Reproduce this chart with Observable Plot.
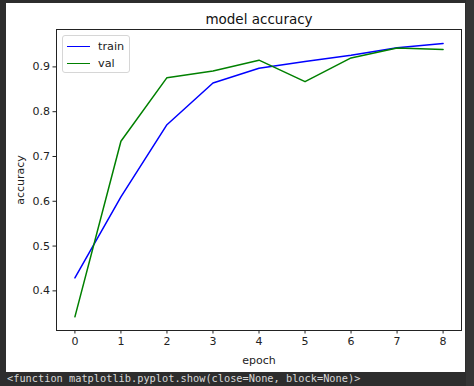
<!DOCTYPE html>
<html>
<head>
<meta charset="utf-8">
<script src="https://cdn.jsdelivr.net/npm/d3@7"></script>
<script src="https://cdn.jsdelivr.net/npm/@observablehq/plot@0.6"></script>
<style>
  html, body { margin: 0; padding: 0; }
  body { width: 474px; height: 386px; background: #2d2d2d; position: relative; overflow: hidden; font-family: "DejaVu Sans", sans-serif; }
  #panel { position: absolute; left: 6px; top: 3px; width: 459px; height: 369px; background: #fff; }
  #strip { position: absolute; left: 466px; top: 0; width: 8px; height: 386px; background: #353535; }
  #legend { position: absolute; left: 62px; top: 35px; width: 66px; height: 36px; border: 1px solid #d6d6d6; border-radius: 3px; background: rgba(255,255,255,0.8); font-size: 11.25px; color: #222; }
  #legend .item { position: absolute; left: 4px; height: 14px; display: flex; align-items: center; }
  #legend .sw { width: 23px; height: 0; border-top: 1.5px solid; margin-right: 8px; }
  #out { position: absolute; left: 7px; top: 372px; color: #d8d8d8; font-family: "DejaVu Sans Mono", monospace; font-size: 10.3px; white-space: pre; line-height: 12px; }
</style>
</head>
<body>
<div id="panel"></div>
<div id="strip"></div>
<div id="legend"></div>
<div id="out">&lt;function matplotlib.pyplot.show(close=None, block=None)&gt;</div>
<script>
const epochs = [0, 1, 2, 3, 4, 5, 6, 7, 8];
const trainAcc = [0.429, 0.610, 0.771, 0.864, 0.897, 0.912, 0.926, 0.943, 0.952];
const valAcc = [0.342, 0.734, 0.876, 0.891, 0.915, 0.867, 0.920, 0.942, 0.939];
const xTicks = [0, 1, 2, 3, 4, 5, 6, 7, 8];
const yTicks = [0.4, 0.5, 0.6, 0.7, 0.8, 0.9];
const seriesNames = ["train", "val"];
const seriesColors = ["blue", "green"];

const data = [];
epochs.forEach((e, i) => {
  data.push({epoch: e, acc: trainAcc[i], series: "train"});
  data.push({epoch: e, acc: valAcc[i], series: "val"});
});

const chart = Plot.plot({
  width: 459,
  height: 369,
  marginLeft: 50,
  marginTop: 26,
  marginRight: 4,
  marginBottom: 42,
  style: {fontFamily: "DejaVu Sans, sans-serif", fontSize: "11px", color: "#222", background: "white"},
  x: {domain: [-0.4, 8.4]},
  y: {domain: [0.3115, 0.9835]},
  color: {domain: seriesNames, range: seriesColors},
  marks: [
    Plot.axisX({ticks: xTicks, tickFormat: d => String(d), tickSize: 3.5, tickPadding: 3, label: "epoch", labelArrow: "none", labelAnchor: "center", labelOffset: 33, fontSize: 11}),
    Plot.axisY({ticks: yTicks, tickFormat: d => d.toFixed(1), tickSize: 3.5, tickPadding: 3, label: "accuracy", labelArrow: "none", labelAnchor: "center", labelOffset: 40, fontSize: 11}),
    Plot.line(data, {x: "epoch", y: "acc", z: "series", stroke: "series", strokeWidth: 1.5}),
    Plot.frame({stroke: "#222", strokeWidth: 1}),
    Plot.text(["model accuracy"], {frameAnchor: "top", lineAnchor: "bottom", dy: -6, fontSize: 13.5, fill: "#111"})
  ]
});
document.getElementById("panel").appendChild(chart);

const legend = document.getElementById("legend");
seriesNames.forEach((name, i) => {
  const item = document.createElement("div");
  item.className = "item";
  item.style.top = (3 + i * 17) + "px";
  const sw = document.createElement("span");
  sw.className = "sw";
  sw.style.borderColor = seriesColors[i];
  item.appendChild(sw);
  item.appendChild(document.createTextNode(name));
  legend.appendChild(item);
});
</script>
</body>
</html>
